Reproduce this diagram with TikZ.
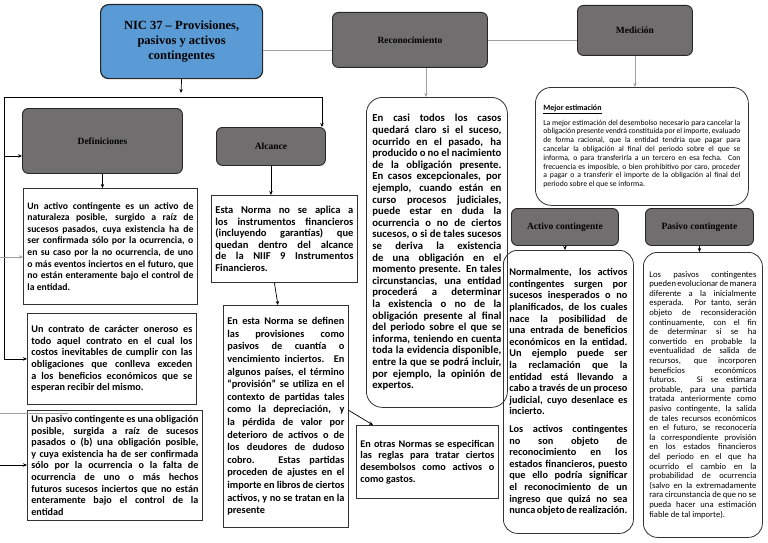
\documentclass[tikz,border=0pt]{standalone}
\usepackage{fontspec}
\setmainfont{Liberation Serif}
\newfontfamily\bodyfont{Carlito}
\usepackage{tikz}
\usetikzlibrary{arrows.meta, positioning, calc}
\definecolor{titleblue}{HTML}{5B9BD5}
\definecolor{headgray}{HTML}{706E6E}
\definecolor{linegray}{HTML}{A0A0A0}
\hyphenpenalty=10000 \exhyphenpenalty=10000
\tolerance=9999 \emergencystretch=20pt

\begin{document}
\begin{tikzpicture}[
    x=1pt, y=-1pt,
    title/.style={rectangle, draw=black!85, line width=1.2pt, rounded corners=8pt, fill=titleblue,
      anchor=north west, align=center, inner sep=0pt, font=\bfseries\fontsize{12.5}{15}\selectfont},
    head/.style={rectangle, draw=black!85, line width=0.9pt, rounded corners=6pt, fill=headgray,
      anchor=north west, inner sep=0pt, font=\bfseries\fontsize{9.5}{11}\selectfont},
    txt/.style={rectangle, draw=black!80, line width=0.8pt, anchor=north west, align=justify,
      inner xsep=4pt, inner ysep=3pt, font=\bodyfont\bfseries\fontsize{9.7}{11.6}\selectfont},
    rtxt/.style={txt, rounded corners=14pt, inner xsep=6pt},
    big/.style={font=\bodyfont\bfseries\fontsize{#1}{11.6}\selectfont},
    small/.style={font=\bodyfont\fontsize{7.7}{8.8}\selectfont},
    arr/.style={draw, line width=0.7pt, -{Stealth[length=4pt, width=3.5pt]}},
    garr/.style={arr, draw=linegray},
    gline/.style={draw=linegray, line width=0.8pt}
  ]
  \useasboundingbox (0,0) rectangle (768,543);

  % titles and headers
  \node[title, minimum width=162pt, minimum height=74pt] (nic) at (100,4)
    {NIC 37 – Provisiones,\\pasivos y activos\\contingentes};
  \node[head, minimum width=155pt, minimum height=55pt] (recon) at (332,12) {Reconocimiento};
  \node[head, minimum width=115pt, minimum height=50pt] (medic) at (577,5) {Medición};
  \node[head, minimum width=160pt, minimum height=65pt] (defin) at (22,108) {Definiciones};
  \node[head, minimum width=109pt, minimum height=38pt] (alcan) at (216,127) {Alcance};
  \node[head, minimum width=107pt, minimum height=37pt] (acth) at (511,208) {Activo contingente};
  \node[head, minimum width=108pt, minimum height=37pt] (pash) at (645,208) {Pasivo contingente};

  % definiciones
  \node[txt, text width=166pt, minimum height=116pt] (actdef) at (23,188)
    {Un activo contingente es un activo de naturaleza posible, surgido a raíz de sucesos pasados, cuya existencia ha de ser confirmada sólo por la ocurrencia, o en su caso por la no ocurrencia, de uno o más eventos inciertos en el futuro, que no están enteramente bajo el control de la entidad.};
  \node[txt, big=10.2, text width=161pt, minimum height=91pt] (oneroso) at (27,313)
    {Un contrato de carácter oneroso es todo aquel contrato en el cual los costos inevitables de cumplir con las obligaciones que conlleva exceden a los beneficios económicos que se esperan recibir del mismo.};
  \node[txt, big=10.1, text width=167pt, minimum height=110pt] (pasdef) at (27,410)
    {Un pasivo contingente es una obligación posible, surgida a raíz de sucesos pasados o (b) una obligación posible, y cuya existencia ha de ser confirmada sólo por la ocurrencia o la falta de ocurrencia de uno o más hechos futuros sucesos inciertos que no están enteramente bajo el control de la entidad};

  % alcance
  \node[txt, big=10.5, text width=138pt, minimum height=87pt] (aplica) at (211,195)
    {Esta Norma no se aplica a los instrumentos financieros (incluyendo garantías) que quedan dentro del alcance de la NIIF 9 Instrumentos Financieros.};
  \node[txt, text width=117pt, minimum height=222pt, font=\bodyfont\bfseries\fontsize{10.3}{12.6}\selectfont] (definen) at (223,305)
    {En esta Norma se definen las provisiones como pasivos de cuantía o vencimiento inciertos. En algunos países, el término “provisión” se utiliza en el contexto de partidas tales como la depreciación, y la pérdida de valor por deterioro de activos o de los deudores de dudoso cobro. Estas partidas proceden de ajustes en el importe en libros de ciertos activos, y no se tratan en la presente};
  \node[txt, big=10.2, text width=134pt, minimum height=73pt] (otras) at (356,425)
    {En otras Normas se especifican las reglas para tratar ciertos desembolsos como activos o como gastos.};

  % reconocimiento y medicion
  \node[rtxt, big=10.7, text width=129pt, minimum height=310pt, rounded corners=16pt] (casi) at (366,97)
    {En casi todos los casos quedará claro si el suceso, ocurrido en el pasado, ha producido o no el nacimiento de la obligación presente. En casos excepcionales, por ejemplo, cuando están en curso procesos judiciales, puede estar en duda la ocurrencia o no de ciertos sucesos, o si de tales sucesos se deriva la existencia de una obligación en el momento presente. En tales circunstancias, una entidad procederá a determinar la existencia o no de la obligación presente al final del periodo sobre el que se informa, teniendo en cuenta toda la evidencia disponible, entre la que se podrá incluir, por ejemplo, la opinión de expertos.};
  \node[rtxt, small, text width=197pt, inner xsep=8pt, minimum height=118pt, rounded corners=16pt] (mejor) at (535,87)
    {{\bfseries\fontsize{8}{10}\selectfont\underline{Mejor estimación}}\par\vspace{6pt}
     La mejor estimación del desembolso necesario para cancelar la obligación presente vendrá constituida por el importe, evaluado de forma racional, que la entidad tendría que pagar para cancelar la obligación al final del periodo sobre el que se informa, o para transferirla a un tercero en esa fecha. Con frecuencia es imposible, o bien prohibitivo por caro, proceder a pagar o a transferir el importe de la obligación al final del periodo sobre el que se informa.};
  \node[rtxt, big=10.3, text width=118pt, minimum height=283pt] (actr) at (503,250)
    {Normalmente, los activos contingentes surgen por sucesos inesperados o no planificados, de los cuales nace la posibilidad de una entrada de beneficios económicos en la entidad. Un ejemplo puede ser la reclamación que la entidad está llevando a cabo a través de un proceso judicial, cuyo desenlace es incierto.\par\vspace{6pt}
     Los activos contingentes no son objeto de reconocimiento en los estados financieros, puesto que ello podría significar el reconocimiento de un ingreso que quizá no sea nunca objeto de realización.};
  \node[rtxt, text width=107pt, minimum height=285pt, font=\bodyfont\fontsize{8.6}{9.6}\selectfont] (pasr) at (643,252)
    {Los pasivos contingentes pueden evolucionar de manera diferente a la inicialmente esperada. Por tanto, serán objeto de reconsideración continuamente, con el fin de determinar si se ha convertido en probable la eventualidad de salida de recursos, que incorporen beneficios económicos futuros. Si se estimara probable, para una partida tratada anteriormente como pasivo contingente, la salida de tales recursos económicos en el futuro, se reconocería la correspondiente provisión en los estados financieros del periodo en el que ha ocurrido el cambio en la probabilidad de ocurrencia (salvo en la extremadamente rara circunstancia de que no se pueda hacer una estimación fiable de tal importe).};

  % connectors
  \coordinate (busW) at (4,97);
  \coordinate (busE) at (322,97);
  \coordinate (nicArr) at (181,93);
  \draw[arr] (nic.south) -- (nicArr);
  \draw[line width=0.7pt] (busW) -- (busE);
  \draw[arr] (busE) -- (busE |- alcan.north);
  \draw[arr] (busW) |- (oneroso.west);
  \coordinate (definIn) at ([yshift=-15pt]defin.west);
  \draw[arr] (definIn -| busW) -- (definIn);
  \draw[arr] (defin.south) -- (defin.south |- actdef.north);
  \draw[arr] (alcan.south) -- (alcan.south |- aplica.north);
  \draw[arr] ([xshift=-10pt]aplica.south) -- ([xshift=-8pt]definen.north);
  \draw[arr] ([yshift=6pt]definen.east) -- ([xshift=17pt]otras.north west);

  % loose stubs on the left edge
  \coordinate (stubA) at (0,257);
  \coordinate (stubB) at (0,413);
  \coordinate (stubBe) at (68,413);
  \coordinate (stubC) at (0,465);
  \draw[garr] (stubA) -- (stubA -| actdef.west);
  \draw[gline] (stubB) -- (stubBe);
  \draw[arr] (stubC) -- (stubC -| pasdef.west);

  \coordinate (nicR) at ([yshift=-9pt]nic.east);
  \draw[gline] (nicR) -- (nicR -| recon.west);
  \draw[gline] (recon.east) -- (recon.east -| medic.west);
  \coordinate (reconB) at ([xshift=16pt]recon.south);
  \draw[garr] (reconB) -- (reconB |- casi.north);
  \draw[garr] (medic.south) -- (medic.south |- mejor.north);
  \draw[arr] (acth.south) -- (acth.south |- actr.north);
  \draw[arr] (pash.south) -- (pash.south |- pasr.north);
\end{tikzpicture}
\end{document}
